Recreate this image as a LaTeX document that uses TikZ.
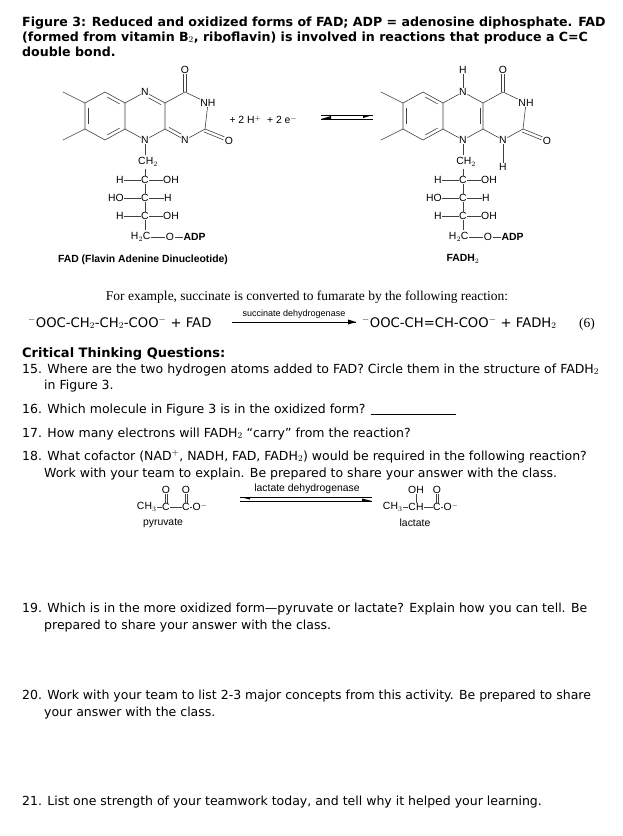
\documentclass[tikz,border=0pt]{standalone}
\usepackage{fontspec}
\usetikzlibrary{calc}
\setmainfont{DejaVu Sans}
\newfontfamily\arl{Liberation Sans}
\newfontfamily\tms{Liberation Serif}
\begin{document}
\begin{tikzpicture}[x=1pt,y=-1pt,
  txt/.style={anchor=base west,inner sep=0pt,font=\fontsize{12.5}{14}\selectfont},
  ttl/.style={anchor=base west,inner sep=0pt,font=\fontsize{12.6}{14}\selectfont\bfseries},
  ch/.style={inner sep=0.3pt,font=\arl\fontsize{10.4}{11}\selectfont},
  bd/.style={line width=0.6pt,black!75}]
\useasboundingbox (0,0) rectangle (622,836);
\newcommand\ring[3]{%
 \coordinate (#1c) at (#2,#3);
 \coordinate (#1t) at (#2,#3-24); \coordinate (#1ur) at (#2+20,#3-13);
 \coordinate (#1lr) at (#2+20,#3+13); \coordinate (#1b) at (#2,#3+24);
 \coordinate (#1ll) at (#2-20,#3+13); \coordinate (#1ul) at (#2-20,#3-13);}
\newcommand\inb[3]{\draw[bd,shorten <=2.5pt,shorten >=2.5pt] ($(#2)!0.16!(#1c)$)--($(#3)!0.16!(#1c)$);}
\newcommand\flavin[3]{% prefix, dx, reduced(0/1)
 \begin{scope}[xshift=#2pt]
 \ring{A}{105}{116}\ring{B}{145}{116}\ring{C}{185}{116}
 \draw[bd] (At)--(Aur)--(Alr)--(Ab)--(All)--(Aul)--cycle;
 \inb{A}{At}{Aur}\inb{A}{Ab}{Alr}\inb{A}{Aul}{All}
 \draw[bd] (Aul)--++(-22,-11) (All)--++(-22,11);
 \node[ch] (#1n1) at (Bt) {N}; \node[ch] (#1n2) at (Bb) {N};
 \node[ch] (#1n3) at ([xshift=3]Cur) {NH}; \node[ch] (#1n4) at (Cb) {N};
 \draw[bd] (Aur)--(#1n1)--(Bur)--(Blr)--(#1n2)--(Alr);
 \draw[bd] (Bur)--(Ct)--(#1n3)--(Clr)--(#1n4)--(Blr);
 \node[ch] (#1o1) at (185,70) {O};
 \draw[bd] ([xshift=-1.5]Ct)--([xshift=-1.5]#1o1.south) ([xshift=1.5]Ct)--([xshift=1.5]#1o1.south);
 \node[ch] (#1o2) at (229,141) {O};
 \draw[bd] (Clr)--(#1o2.north west) ([shift={(-1,3)}]Clr)--([shift={(-1,3)}]#1o2.north west);
 \ifnum#3=0
  \draw[bd,shorten <=4pt,shorten >=1pt] ($(Bt)!0.16!(Bc)$)--($(Bur)!0.16!(Bc)$);
  \draw[bd,shorten <=1pt,shorten >=4pt] ($(Blr)!0.16!(Cc)$)--($(Cb)!0.16!(Cc)$);
 \else
  \inb{B}{Bur}{Blr}
  \node[ch] (#1h1) at (145,70) {H}; \draw[bd] (#1h1)--(#1n1);
  \node[ch] (#1h2) at (185,167) {H}; \draw[bd] (#1h2)--(#1n4);
 \fi
 \node[ch] (#1c0) at (148,162) {CH$_2$}; \draw[bd] (#1n2)--(145,155);
 \node[ch] (#1c1) at (145,180) {C}; \node[ch] (#1a1) at (120,180) {H}; \node[ch] (#1b1) at (171,180) {OH};
 \node[ch] (#1c2) at (145,198) {C}; \node[ch] (#1a2) at (116,198) {HO}; \node[ch] (#1b2) at (168,198) {H};
 \node[ch] (#1c3) at (145,216) {C}; \node[ch] (#1a3) at (120,216) {H}; \node[ch] (#1b3) at (171,216) {OH};
 \node[ch,anchor=east] (#1c4) at (151,237) {H$_2$C};
 \node[ch] (#1o4) at (170,237) {O};
 \node[ch,anchor=west,font=\arl\fontsize{10.4}{11}\selectfont\bfseries] (#1d4) at (183,237) {ADP};
 \foreach \i in {1,2,3}{\draw[bd] (#1a\i)--(#1c\i)--(#1b\i);}
 \draw[bd] (145,169)--(#1c1)--(#1c2)--(#1c3)--(145,230);
 \draw[bd] (#1c4)--(#1o4)--(#1d4);
 \end{scope}}
% title
\node[ttl] at (22,26) {Figure 3: Reduced and oxidized forms of FAD; ADP = adenosine diphosphate. FAD};
\node[ttl] at (22,41) {(formed from vitamin B$_2$, riboflavin) is involved in reactions that produce a C=C};
\node[ttl] at (22,56) {double bond.};
\flavin{f}{0}{0}
\flavin{g}{318}{1}
\node[ch,anchor=west] (pl) at (229,120) {+ 2 H$^{+}$ \ + 2 e$^{-}$};
\coordinate (e1) at (321,119); \coordinate (e2) at (373,119);
\draw[line width=0.7pt] (e2)--(e1); \fill (e1)--++(10,-3)--++(0,3)--cycle;
\draw[line width=0.7pt] ([yshift=4]e1)--([yshift=4]e2); \fill ([yshift=4]e2)--++(-10,3)--++(0,-3)--cycle;
\node[ch,font=\arl\fontsize{10.4}{11}\selectfont\bfseries] at (143,260) {FAD (Flavin Adenine Dinucleotide)};
\node[ch,font=\arl\fontsize{10.4}{11}\selectfont\bfseries] at (463,259) {FADH$_2$};
% reaction
\node[anchor=base,inner sep=0pt,font=\tms\fontsize{13.5}{15}\selectfont] at (307,300) {For example, succinate is converted to fumarate by the following reaction:};
\node[txt,font=\fontsize{13.2}{15}\selectfont] (r1) at (28,327) {$^{-}$OOC-CH$_2$-CH$_2$-COO$^{-}$ + FAD};
\coordinate (s1) at (232,322); \coordinate (s2) at (356,322);
\draw[line width=0.6pt] (s1)--(s2); \fill (s2)--++(-8,2.5)--++(0,-5)--cycle;
\node[ch,font=\arl\fontsize{9}{10}\selectfont] at (294,314) {succinate dehydrogenase};
\node[txt,font=\fontsize{13.2}{15}\selectfont] (r2) at (362,327) {$^{-}$OOC-CH=CH-COO$^{-}$ + FADH$_2$};
\node[txt,font=\tms\fontsize{13.5}{15}\selectfont] at (579,327) {(6)};
% questions
\node[txt,font=\fontsize{13}{15}\selectfont\bfseries] at (22,357) {Critical Thinking Questions:};
\node[txt] at (22,373) {15. Where are the two hydrogen atoms added to FAD? Circle them in the structure of FADH$_2$};
\node[txt] at (44,389) {in Figure 3.};
\node[txt] at (22,413) {16. Which molecule in Figure 3 is in the oxidized form? \rule[-1pt]{85pt}{0.5pt}};
\node[txt] at (22,437) {17. How many electrons will FADH$_2$ ``carry'' from the reaction?};
\node[txt] at (22,460) {18. What cofactor (NAD$^{+}$, NADH, FAD, FADH$_2$) would be required in the following reaction?};
\node[txt] at (44,477) {Work with your team to explain. Be prepared to share your answer with the class.};
% pyruvate
\node[ch,anchor=east] (p0) at (157,507) {CH$_3$};
\node[ch] (p1) at (166,507) {C}; \node[ch] (p2) at (186,507) {C}; \node[ch] (p3) at (200,507) {O$^{-}$};
\node[ch] (po1) at (166,490) {O}; \node[ch] (po2) at (186,490) {O};
\draw[bd] (p0)--(p1)--(p2)--(p3);
\foreach \a/\b in {po1/p1,po2/p2}{\draw[bd] ([xshift=-1.2]\a.south)--([xshift=-1.2]\b.north) ([xshift=1.2]\a.south)--([xshift=1.2]\b.north);}
\node[ch] at (163,523) {pyruvate};
\coordinate (l1) at (240,497); \coordinate (l2) at (372,497);
\draw[line width=0.7pt] (l2)--(l1); \fill (l1)--++(10,2.5)--++(0,-2.5)--cycle;
\draw[line width=0.7pt] ([yshift=-4]l1)--([yshift=-4]l2); \fill ([yshift=-4]l2)--++(-10,-2.5)--++(0,2.5)--cycle;
\node[ch] at (307,489) {lactate dehydrogenase};
\node[ch,anchor=east] (q0) at (403,507) {CH$_3$};
\node[ch] (q1) at (416,507) {CH}; \node[ch] (q2) at (437,507) {C}; \node[ch] (q3) at (451,507) {O$^{-}$};
\node[ch] (qo1) at (416,490) {OH}; \node[ch] (qo2) at (437,490) {O};
\draw[bd] (q0)--(q1)--(q2)--(q3) (qo1)--(q1);
\draw[bd] ([xshift=-1.2]qo2.south)--([xshift=-1.2]q2.north) ([xshift=1.2]qo2.south)--([xshift=1.2]q2.north);
\node[ch] at (415,523) {lactate};
\node[txt] at (22,612) {19. Which is in the more oxidized form---pyruvate or lactate? Explain how you can tell. Be};
\node[txt] at (44,629) {prepared to share your answer with the class.};
\node[txt] at (22,699) {20. Work with your team to list 2-3 major concepts from this activity. Be prepared to share};
\node[txt] at (44,716) {your answer with the class.};
\node[txt] at (22,805) {21. List one strength of your teamwork today, and tell why it helped your learning.};
\end{tikzpicture}
\end{document}
